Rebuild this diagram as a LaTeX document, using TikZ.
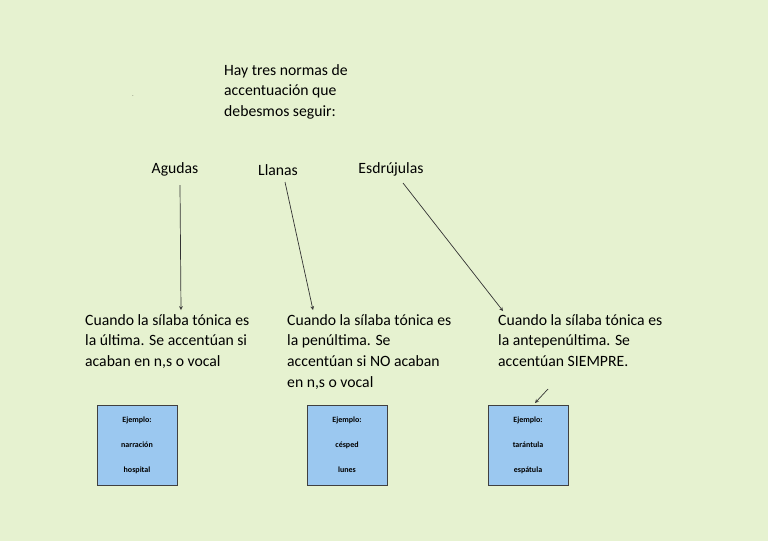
\documentclass[tikz,border=0pt]{standalone}
\usepackage{fontspec}
\setmainfont{Carlito}
\definecolor{bg}{RGB}{230,242,208}
\definecolor{boxc}{RGB}{155,200,240}
\begin{document}
\begin{tikzpicture}[x=1pt,y=-1pt,
 txt/.style={anchor=north west,inner sep=0pt,align=left,font=\fontsize{15.7}{20.8}\selectfont},
 lbl/.style={inner sep=0pt,font=\fontsize{15.7}{18}\selectfont},
 ex/.style={draw=black!75,fill=boxc,minimum width=80pt,minimum height=80pt,inner sep=0pt,align=center,font=\bfseries\fontsize{8}{25}\selectfont},
 arr/.style={-stealth,black!80,line width=0.7pt}]
\fill[bg] (0,0) rectangle (768,541);
\useasboundingbox (0,0) rectangle (768,541);
\node[txt] (t) at (224,64) {Hay tres normas de\\accentuación que\\debesmos seguir:};
\node[inner sep=0pt,font=\tiny] (d) at (133,96) {.};
\node[lbl] (ag) at (175,169) {Agudas};
\node[lbl] (ll) at (278,170) {Llanas};
\node[lbl] (es) at (391,169) {Esdrújulas};
\node[txt] (a1) at (85,314) {Cuando la sílaba tónica es\\la última. Se accentúan si\\acaban en n,s o vocal};
\node[txt] (a2) at (287,314) {Cuando la sílaba tónica es\\la penúltima. Se\\accentúan si NO acaban\\en n,s o vocal};
\node[txt] (a3) at (498,314) {Cuando la sílaba tónica es\\la antepenúltima. Se\\accentúan SIEMPRE.};
\node[ex] (b1) at (137,445) {Ejemplo:\\narración\\hospital};
\node[ex] (b2) at (347,445) {Ejemplo:\\césped\\lunes};
\node[ex] (b3) at (528,445) {Ejemplo:\\tarántula\\espátula};
\coordinate (p1) at (180,185); \coordinate (q1) at (181,310);
\coordinate (p2) at (285,182); \coordinate (q2) at (313,310);
\coordinate (p3) at (403,183); \coordinate (q3) at (503,311);
\coordinate (p4) at (548,389); \coordinate (q4) at (535,403);
\draw[arr] (p1) -- (q1);
\draw[arr] (p2) -- (q2);
\draw[arr] (p3) -- (q3);
\draw[arr] (p4) -- (q4);
\end{tikzpicture}
\end{document}
